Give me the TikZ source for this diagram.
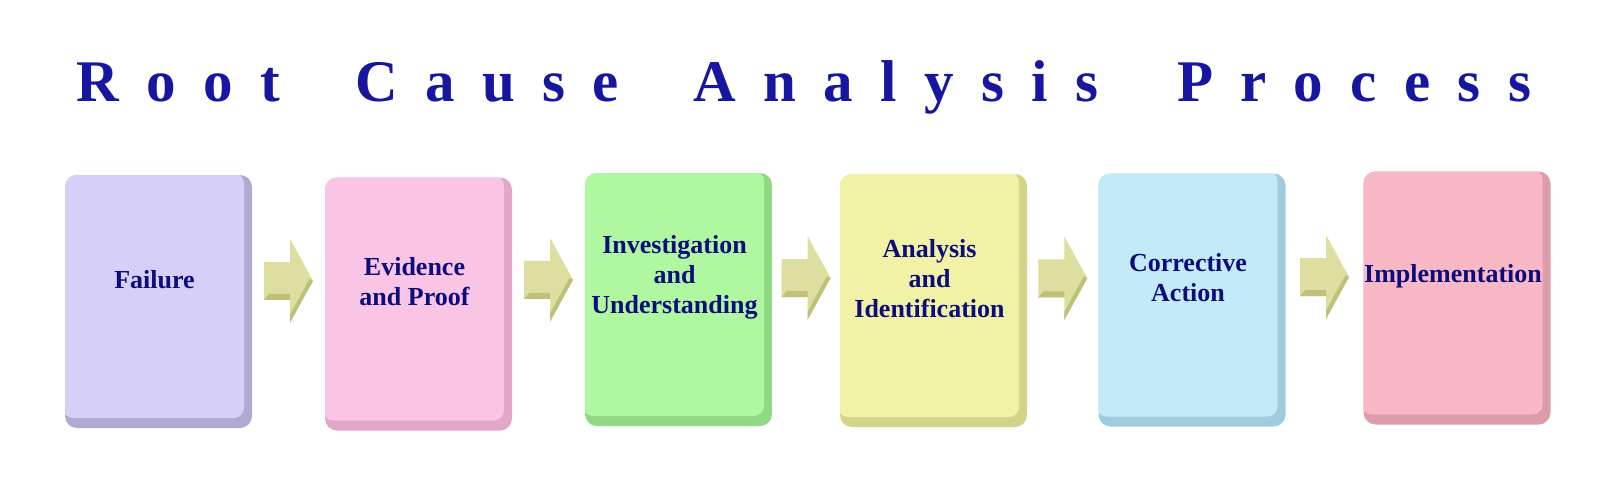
\documentclass[tikz,border=0pt]{standalone}
\usepackage{fontspec}
\setmainfont{Liberation Serif}
\newfontfamily\titlefont{Liberation Serif}[LetterSpace=46.6]
\usetikzlibrary{calc}

\definecolor{navy}{RGB}{12,12,122}
\definecolor{titleblue}{RGB}{22,22,160}
\definecolor{lilac}{RGB}{214,208,248}
\definecolor{lilacdark}{RGB}{176,170,208}
\definecolor{pink}{RGB}{250,196,228}
\definecolor{pinkdark}{RGB}{226,166,200}
\definecolor{mint}{RGB}{176,248,160}
\definecolor{mintdark}{RGB}{144,216,132}
\definecolor{lemon}{RGB}{242,242,166}
\definecolor{lemondark}{RGB}{212,212,136}
\definecolor{sky}{RGB}{194,234,248}
\definecolor{skydark}{RGB}{160,204,224}
\definecolor{rose}{RGB}{248,184,198}
\definecolor{rosedark}{RGB}{220,156,172}
\definecolor{arrowface}{RGB}{222,222,160}
\definecolor{arrowedge}{RGB}{192,192,120}

\tikzset{
  flow/.pic={
    \fill[arrowface] (-24.5,-19) -- (1.5,-19) -- (1.5,-42) -- (24.5,0) -- (1.5,42) -- (1.5,19) -- (-24.5,19) -- cycle;
    \fill[arrowedge] (-24.5,19) -- (-19,13) -- (1.5,13) -- (1.5,19) -- cycle;
    \fill[arrowedge] (1.5,42) -- (24.5,0) -- (21,-1.9) -- (1.5,33.7) -- cycle;
  }
}

\begin{document}
\begin{tikzpicture}[x=1pt, y=-1pt,
  card/.style 2 args = {fill=#2, rounded corners=12pt, minimum width=187pt, minimum height=253pt,
    path picture={\fill[#1, rounded corners=10pt] ([shift={(-2pt,2pt)}]path picture bounding box.north west)
      rectangle ([shift={(-8pt,10pt)}]path picture bounding box.south east);}},
  boxtext/.style = {font=\bfseries\fontsize{26}{30}\selectfont, text=navy, align=center, inner sep=0pt},
  headline/.style = {font=\titlefont\bfseries\fontsize{59}{60}\selectfont, text=titleblue, inner sep=0pt, anchor=base west}]
\fill[white] (0,0) rectangle (1600,487);
\useasboundingbox (0,0) rectangle (1600,487);

% title, one node per word
\node[headline] (w1) at (76,101) {Root};
\node[headline] (w2) at (355,101) {Cause};
\node[headline] (w3) at (693,101) {Analysis};
\node[headline] (w4) at (1177,101) {Process};

% the six steps
\node[card={lilac}{lilacdark}] (b1) at (158.5,301.5) {};
\node[card={pink}{pinkdark}] (b2) at (418.5,304) {};
\node[card={mint}{mintdark}] (b3) at (678.5,299.5) {};
\node[card={lemon}{lemondark}] (b4) at (933.5,300.5) {};
\node[card={sky}{skydark}] (b5) at (1192,300) {};
\node[card={rose}{rosedark}] (b6) at (1457,298) {};

\node[boxtext] (t1) at ([xshift=-4pt,yshift=22pt]b1.center) {Failure};
\node[boxtext] (t2) at ([xshift=-4pt,yshift=22pt]b2.center) {Evidence\\and Proof};
\node[boxtext] (t3) at ([xshift=-4pt,yshift=22pt]b3.center) {Investigation\\and\\Understanding};
\node[boxtext] (t4) at ([xshift=-4pt,yshift=22pt]b4.center) {Analysis\\and\\Identification};
\node[boxtext] (t5) at ([xshift=-4pt,yshift=22pt]b5.center) {Corrective\\Action};
\node[boxtext] (t6) at ([xshift=-4pt,yshift=22pt]b6.center) {Implementation};

% arrows between the steps
\pic at ($(b1.east)!.5!(b2.west)+(0,-22)$) {flow};
\pic at ($(b2.east)!.5!(b3.west)+(0,-22)$) {flow};
\pic at ($(b3.east)!.5!(b4.west)+(0,-22)$) {flow};
\pic at ($(b4.east)!.5!(b5.west)+(0,-22)$) {flow};
\pic at ($(b5.east)!.5!(b6.west)+(0,-22)$) {flow};
\end{tikzpicture}
\end{document}
